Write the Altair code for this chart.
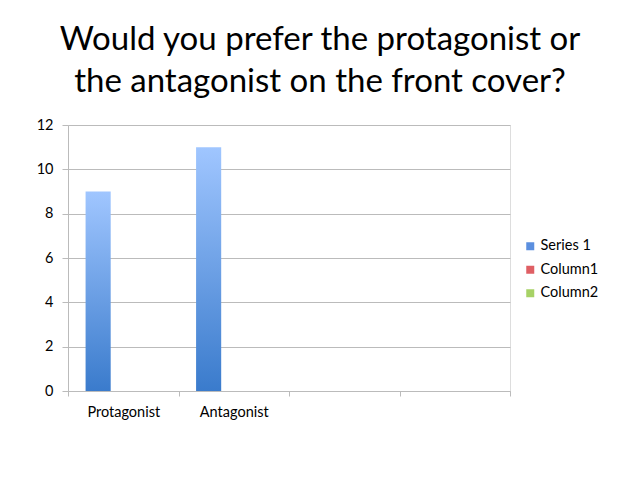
import altair as alt
import pandas as pd

categories = ["Protagonist", "Antagonist", "Category 3", "Category 4"]
series_names = ["Series 1", "Column1", "Column2"]
series1_values = [9, 11, None, None]
legend_colors = ["#5B8FDF", "#DF5F64", "#A7D266"]
y_ticks = [0, 2, 4, 6, 8, 10, 12]

bars_df = pd.DataFrame({
    "category": categories[:2],
    "series": ["Series 1", "Series 1"],
    "value": series1_values[:2],
})
legend_df = pd.DataFrame({"series": series_names, "category": categories[0], "value": [0, 0, 0]})

grid_color = "#BBBBBB"
font = "Lato"
fs = 14.5

x_enc = alt.X(
    "category:N",
    scale=alt.Scale(domain=categories, paddingInner=0, paddingOuter=0),
    sort=categories,
    axis=alt.Axis(
        title=None, labelAngle=0, tickBand="extent", grid=False,
        labelExpr="(datum.value == 'Category 3' || datum.value == 'Category 4') ? '' : datum.value",
        domainColor=grid_color, tickColor=grid_color, tickSize=5,
        labelFont=font, labelFontSize=fs, labelColor="#000000", labelPadding=9,
    ),
)
y_enc = alt.Y(
    "value:Q",
    scale=alt.Scale(domain=[0, 12], nice=False),
    axis=alt.Axis(
        title=None, values=y_ticks, grid=True, gridColor=grid_color,
        domainColor=grid_color, tickColor=grid_color, tickSize=6,
        labelFont=font, labelFontSize=fs, labelColor="#000000", labelPadding=9,
    ),
)

gradient = alt.Gradient(
    gradient="linear",
    stops=[alt.GradientStop(color="#A0C6FF", offset=0), alt.GradientStop(color="#3A7BCC", offset=1)],
    x1=0, x2=0, y1=0, y2=1,
)

bars = alt.Chart(bars_df).mark_bar(color=gradient).encode(
    x=x_enc,
    y=y_enc,
    xOffset=alt.XOffset("series:N", scale=alt.Scale(domain=series_names, paddingOuter=0.7, paddingInner=0)),
)

legend_layer = alt.Chart(legend_df).mark_square(size=0, opacity=1).encode(
    x=alt.X("category:N", scale=alt.Scale(domain=categories)),
    y=alt.Y("value:Q"),
    color=alt.Color(
        "series:N",
        scale=alt.Scale(domain=series_names, range=legend_colors),
        legend=alt.Legend(
            title=None, orient="none", legendX=455, legendY=114,
            symbolType="square", symbolSize=64, symbolOpacity=1, symbolStrokeWidth=0,
            labelFont=font, labelFontSize=fs, labelColor="#000000",
            rowPadding=8.5, labelOffset=3,
        ),
    ),
)

chart = alt.layer(bars, legend_layer).properties(
    width=442,
    height=266,
    title=alt.TitleParams(
        text=["Would you prefer the protagonist or", "the antagonist on the front cover?"],
        font=font, fontSize=33, fontWeight="normal", color="#000000",
        anchor="middle", dx=31, offset=18, lineHeight=42,
    ),
    padding={"left": 60, "top": 117, "right": 120, "bottom": 79},
    autosize=alt.AutoSizeParams(type="none"),
).configure_view(stroke=None).configure(background="white")

chart.save("out.html", embed_options={"renderer": "svg", "actions": False})
